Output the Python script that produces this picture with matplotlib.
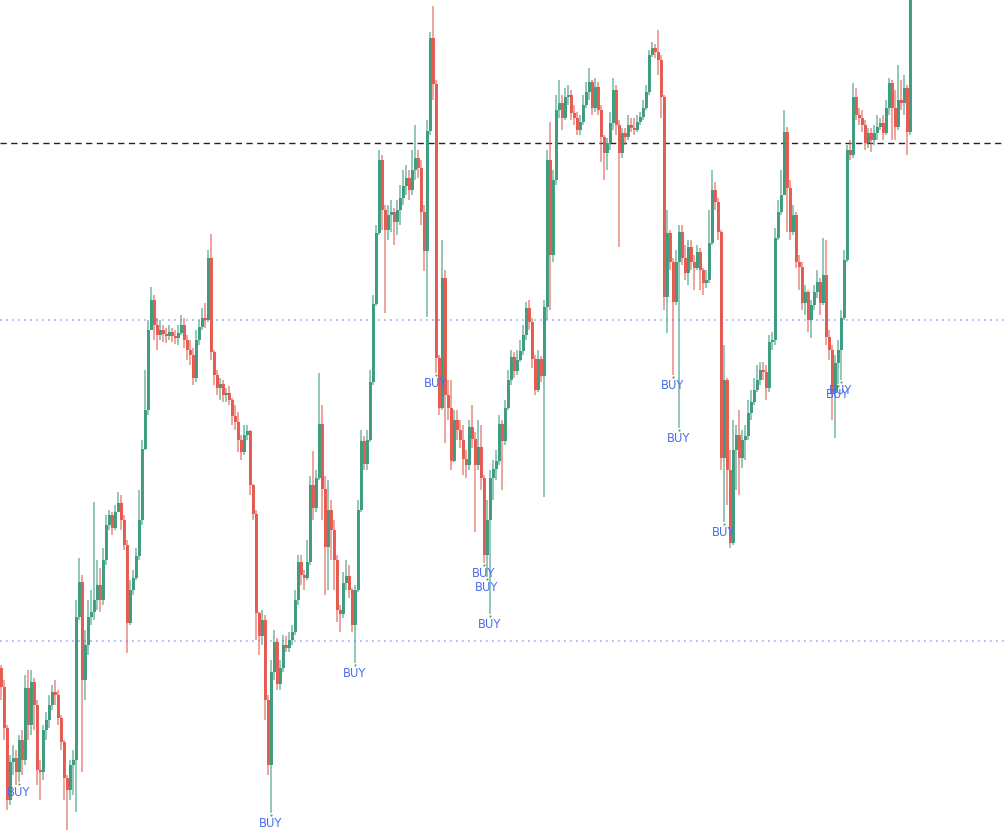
import numpy as np
import matplotlib
matplotlib.use('Agg')
import matplotlib.pyplot as plt

# candle data, one candle per bar, open = previous close
open0 = 332
close = [313, 272, 200, 238, 242, 228, 260, 240, 312, 275,
         318, 295, 230, 228, 270, 280, 295, 308, 305, 282,
         258, 222, 210, 235, 240, 383, 418, 320, 355, 383,
         388, 400, 415, 400, 440, 475, 485, 472, 488, 497,
         480, 455, 377, 410, 422, 444, 480, 551, 590, 670,
         700, 675, 665, 670, 666, 664, 668, 664, 662, 667,
         675, 660, 650, 645, 622, 660, 673, 682, 680, 742,
         648, 625, 612, 616, 605, 607, 600, 584, 578, 560,
         548, 565, 569, 515, 486, 387, 364, 380, 300, 235,
         328, 358, 316, 332, 355, 352, 360, 368, 400, 438,
         425, 422, 438, 515, 492, 522, 576, 511, 453, 490,
         470, 440, 390, 386, 417, 424, 410, 375, 410, 490,
         559, 536, 560, 618, 696, 767, 840, 790, 770, 785,
         788, 778, 790, 802, 814, 822, 810, 830, 842, 832,
         788, 749, 869, 962, 916, 642, 592, 722, 605, 592,
         539, 580, 570, 560, 541, 535, 573, 561, 535, 553,
         522, 445, 480, 522, 531, 539, 576, 559, 592, 620,
         643, 629, 640, 649, 665, 692, 678, 641, 610, 641,
         624, 693, 840, 745, 820, 890, 897, 882, 903, 905,
         887, 882, 870, 878, 895, 908, 918, 892, 913, 890,
         863, 847, 857, 877, 910, 875, 847, 867, 863, 875,
         872, 870, 878, 883, 892, 908, 945, 952, 948, 940,
         903, 703, 767, 738, 698, 738, 768, 742, 727, 753,
         738, 732, 748, 730, 717, 720, 757, 810, 798, 768,
         542, 620, 530, 457, 550, 565, 542, 560, 564, 587,
         598, 610, 620, 630, 628, 612, 658, 660, 762, 788,
         805, 868, 812, 768, 785, 738, 733, 697, 708, 680,
         695, 708, 718, 697, 725, 663, 650, 607, 637, 650,
         682, 740, 850, 845, 903, 885, 882, 875, 857, 867,
         860, 867, 873, 877, 867, 892, 917, 892, 873, 900,
         897, 912, 868, 1008]
high = [335, 320, 275, 245, 255, 250, 265, 270, 325, 330,
        330, 322, 300, 240, 275, 288, 305, 315, 320, 310,
        285, 260, 225, 240, 250, 400, 442, 425, 370, 400,
        410, 498, 440, 432, 452, 485, 490, 488, 495, 508,
        505, 485, 460, 420, 430, 452, 510, 560, 630, 680,
        713, 705, 682, 680, 675, 672, 675, 672, 670, 675,
        685, 682, 665, 660, 652, 670, 680, 692, 697, 750,
        766, 650, 630, 622, 620, 612, 614, 602, 595, 588,
        565, 575, 575, 570, 516, 490, 388, 390, 385, 305,
        340, 370, 362, 340, 365, 364, 368, 375, 410, 445,
        445, 430, 460, 524, 549, 530, 627, 595, 524, 520,
        500, 480, 445, 395, 428, 440, 435, 412, 415, 500,
        570, 564, 570, 630, 705, 775, 850, 845, 795, 795,
        800, 792, 800, 815, 830, 835, 830, 850, 875, 850,
        840, 795, 880, 968, 994, 920, 645, 760, 730, 620,
        620, 590, 590, 580, 575, 550, 580, 595, 568, 580,
        575, 525, 500, 530, 540, 550, 585, 580, 600, 630,
        650, 648, 650, 660, 675, 698, 700, 682, 645, 650,
        644, 700, 850, 878, 830, 905, 920, 905, 912, 915,
        910, 895, 888, 885, 905, 918, 932, 920, 922, 918,
        895, 865, 862, 888, 922, 915, 880, 872, 872, 885,
        882, 882, 885, 888, 900, 915, 950, 958, 956, 970,
        945, 905, 790, 770, 742, 750, 775, 775, 755, 760,
        760, 745, 755, 752, 732, 730, 790, 830, 818, 802,
        770, 655, 622, 550, 580, 575, 590, 570, 575, 600,
        610, 622, 635, 638, 638, 635, 665, 668, 772, 800,
        830, 890, 873, 820, 795, 788, 745, 738, 715, 710,
        700, 715, 730, 722, 762, 760, 670, 655, 645, 660,
        690, 750, 855, 860, 917, 912, 892, 890, 880, 872,
        872, 875, 885, 882, 885, 900, 922, 920, 910, 935,
        920, 925, 915, 1008]
low = [300, 260, 190, 195, 225, 215, 218, 225, 235, 260,
       265, 270, 215, 200, 220, 260, 272, 290, 295, 275,
       250, 200, 170, 200, 205, 188, 380, 228, 300, 345,
       375, 380, 390, 388, 395, 435, 470, 465, 470, 488,
       470, 450, 347, 375, 405, 420, 440, 475, 550, 585,
       670, 660, 650, 660, 658, 657, 660, 658, 656, 655,
       665, 652, 640, 635, 615, 618, 655, 670, 672, 678,
       640, 615, 605, 600, 598, 598, 595, 575, 570, 548,
       540, 545, 560, 505, 480, 360, 345, 355, 280, 225,
       187, 320, 310, 310, 328, 348, 348, 355, 365, 395,
       415, 410, 420, 435, 480, 488, 520, 480, 405, 410,
       440, 410, 378, 368, 382, 410, 402, 368, 337, 408,
       488, 530, 530, 558, 615, 694, 765, 770, 687, 760,
       768, 755, 765, 775, 795, 805, 800, 805, 820, 822,
       775, 729, 683, 865, 900, 627, 585, 590, 557, 580,
       530, 538, 560, 552, 525, 522, 530, 552, 468, 530,
       510, 437, 423, 386, 500, 520, 535, 510, 555, 590,
       615, 622, 625, 638, 645, 660, 670, 632, 605, 608,
       618, 503, 680, 690, 738, 815, 882, 870, 880, 895,
       880, 875, 865, 865, 875, 892, 900, 885, 888, 885,
       838, 820, 830, 850, 870, 865, 753, 842, 855, 860,
       868, 865, 868, 875, 880, 890, 905, 943, 942, 925,
       882, 690, 667, 730, 625, 695, 572, 735, 720, 715,
       730, 710, 730, 710, 705, 712, 717, 755, 790, 760,
       530, 478, 495, 452, 455, 510, 505, 532, 540, 560,
       580, 595, 608, 615, 620, 600, 608, 650, 655, 760,
       785, 805, 768, 760, 765, 732, 710, 690, 685, 668,
       662, 690, 702, 685, 695, 655, 640, 580, 562, 616,
       620, 680, 738, 840, 842, 880, 875, 868, 850, 852,
       848, 855, 860, 870, 860, 865, 885, 860, 860, 870,
       890, 885, 845, 865]

buy_idx = [6, 90, 118, 145, 161, 162, 163, 224, 226, 241, 279, 280]
dashed_level = 857
dotted_levels = [680, 359]

assert len(close) == len(high) == len(low)

close = np.array(close, dtype=float)
high = np.array(high, dtype=float)
low = np.array(low, dtype=float)
opens = np.concatenate([[open0], close[:-1]])
n = len(close)
idx = np.arange(n)

green = '#3a9a7c'
red = '#e5574d'
up = close >= opens
cols = np.where(up, green, red)

fig = plt.figure(figsize=(10.05, 8.4), dpi=100)
ax = fig.add_axes([0, 0, 1, 1])

ax.axhline(dashed_level, color='#222222', lw=1.0, dashes=(4.5, 3.2), zorder=1)
for lv in dotted_levels:
    ax.axhline(lv, color='#98b0f2', lw=1.2, dashes=(1.0, 2.6), zorder=1)

ax.vlines(idx, low, high, colors=cols, lw=1.1, alpha=0.7, zorder=2)
body_lo = np.minimum(opens, close)
body_h = np.maximum(np.abs(close - opens), 1.5)
ax.bar(idx, body_h, bottom=body_lo, width=1.0, color=cols, alpha=0.95,
       linewidth=0, zorder=3)

for i in buy_idx:
    ax.plot(i, low[i] - 1.5, marker='o', ms=1.6, color='#4caf50', mew=0, zorder=4)
    ax.annotate('BUY', xy=(i, low[i]), xytext=(0, -3.2), textcoords='offset points',
                ha='center', va='top', fontsize=8.3, color='#4a6cf2', zorder=5)

ax.set_xlim(-1 / 3, 1004 / 3)
ax.set_ylim(160, 1000)
ax.axis('off')

fig.savefig('out.png', dpi=100, facecolor='white')
